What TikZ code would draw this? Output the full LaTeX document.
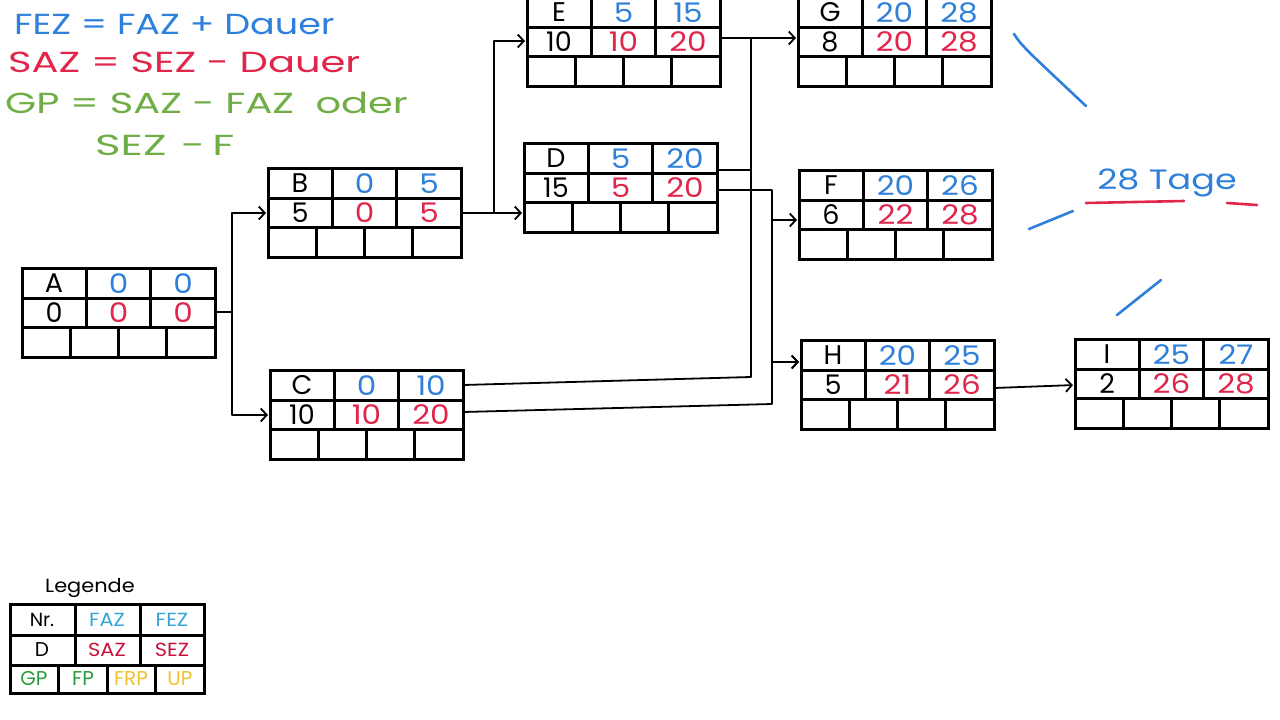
\documentclass[tikz,border=0pt]{standalone}
\usepackage{fontspec}
\setmainfont{Poppins}
\usetikzlibrary{arrows.meta,calc}
\definecolor{pblue}{HTML}{2F80DA}
\definecolor{pred}{HTML}{E0264A}
\definecolor{pgreen}{HTML}{6FAD45}
\definecolor{lcyan}{HTML}{33A6D6}
\definecolor{lred}{HTML}{C8123A}
\definecolor{lgreen}{HTML}{2A9A3C}
\definecolor{lyellow}{HTML}{EEC232}
\tikzset{
  boxframe/.style={draw=black, line width=3pt, minimum width=193pt, minimum height=89pt, inner sep=0pt, outer sep=0pt, anchor=north west},
  cellline/.style={line width=3pt},
  conn/.style={draw=black, line width=1.8pt, line join=round},
  arr/.style={conn, shorten >=2pt, -{Straight Barb[length=6pt,width=13pt,line width=1.8pt]}},
  blk/.style={font=\fontsize{27}{27}\selectfont, text=black, inner sep=0pt},
  bluetxt/.style={blk, text=pblue},
  redtxt/.style={blk, text=pred},
  formula/.style={anchor=west, inner sep=0pt, font=\fontsize{29}{29}\selectfont},
  legtxt/.style={inner sep=0pt, font=\fontsize{19}{19}\selectfont},
  legbig/.style={inner sep=0pt, font=\fontsize{20}{20}\selectfont},
  pen/.style={line width=2.6pt, line cap=round},
}
\newcommand\pmbox[9]{%
  \node[boxframe] (#1) at (#2,#3) {};
  \begin{scope}[shift={(#2,#3)}]
    \draw[cellline] (0,30) -- (193,30) (0,59) -- (193,59)
      (64.3,0) -- (64.3,59) (128.7,0) -- (128.7,59)
      (48.25,59) -- (48.25,89) (96.5,59) -- (96.5,89) (144.75,59) -- (144.75,89);
    \node[blk] (#1-n) at (32,15.5) {#4};
    \node[blk] (#1-d) at (32,45) {#5};
    \node[bluetxt] (#1-faz) at (96.5,15.5) {\scalebox{1.15}[1]{#6}};
    \node[bluetxt] (#1-fez) at (161,15.5) {\scalebox{1.15}[1]{#7}};
    \node[redtxt] (#1-saz) at (96.5,45) {\scalebox{1.15}[1]{#8}};
    \node[redtxt] (#1-sez) at (161,45) {\scalebox{1.15}[1]{#9}};
  \end{scope}}
\begin{document}
\begin{tikzpicture}[x=1pt,y=-1pt]
\useasboundingbox[fill=white] (0,0) rectangle (1280,720);

% formulas
\node[formula, text=pblue] (f1) at (14,25) {\scalebox{1.26}[1]{FEZ = FAZ + Dauer}};
\node[formula, text=pred] (f2) at (8,62) {\scalebox{1.38}[1]{SAZ = SEZ - Dauer}};
\node[formula, text=pgreen] (f3) at (5,103) {\scalebox{1.38}[1]{GP = SAZ - FAZ \ oder}};
\node[formula, text=pgreen] (f4) at (95,145) {\scalebox{1.5}[1]{SEZ\,\,-\,F}};

% boxes
\pmbox{A}{22}{268}{A}{0}{0}{0}{0}{0}
\pmbox{B}{268}{168}{B}{5}{0}{5}{0}{5}
\pmbox{C}{270}{370}{C}{10}{0}{10}{10}{20}
\pmbox{E}{527}{-3}{E}{10}{5}{15}{10}{20}
\pmbox{D}{524}{143}{D}{15}{5}{20}{5}{20}
\pmbox{G}{798}{-3}{G}{8}{20}{28}{20}{28}
\pmbox{F}{799}{170}{F}{6}{20}{26}{22}{28}
\pmbox{H}{801}{340}{H}{5}{20}{25}{21}{26}
\pmbox{I}{1075}{339}{I}{2}{25}{27}{26}{28}

% connectors
\draw[arr] ($(A.north east)+(0,44)$) -- ++(17,0) |- ($(B.north west)+(0,45)$);
\draw[arr] ($(A.north east)+(0,44)$) -- ++(17,0) |- ($(C.north west)+(0,45)$);
\draw[arr] ($(B.north east)+(0,45)$) -- ++(33,0) |- ($(E.north west)+(0,44)$);
\draw[arr] ($(B.north east)+(0,45)$) -- ($(D.north west)+(0,70)$);
\draw[arr] ($(E.north east)+(0,41)$) -- ($(G.north west)+(0,41)$);
\coordinate (jG) at (751,39);
\coordinate (cG) at (751,377);
\draw[conn] ($(D.north east)+(0,27)$) -| (jG);
\draw[conn] ($(C.north east)+(0,15)$) -- (cG) -- (jG);
\coordinate (jF) at (772,190);
\coordinate (cH) at (772,404);
\draw[arr] ($(D.north east)+(0,47)$) -- (jF) |- ($(F.north west)+(0,50)$);
\draw[arr] (jF) |- ($(H.north west)+(0,22)$);
\draw[arr] ($(C.north east)+(0,42)$) -- (cH) |- ($(H.north west)+(0,22)$);
\draw[arr] ($(H.north east)+(0,48)$) -- ($(I.north west)+(0,46)$);

% right annotations
\draw[pen, pblue] (1014,34) .. controls (1022,46) .. (1086,106);
\draw[pen, pblue] (1029,229) -- (1073,211);
\draw[pen, pblue] (1117,315) -- (1161,280);
\node[inner sep=0pt, text=pblue, font=\fontsize{28}{28}\selectfont] (tage) at (1167,183) {\scalebox{1.25}[1]{28 Tage}};
\draw[pen, pred] (1086,203) -- (1184,201);
\draw[pen, pred] (1227,203) -- (1257,205);

% legend
\node[legtxt] (legt) at (90,588) {\scalebox{1.1}[1]{Legende}};
\node[boxframe, minimum width=194pt] (leg) at (10,604) {};
\begin{scope}[shift={(10,604)}]
  \draw[cellline] (0,31) -- (194,31) (0,61) -- (194,61)
    (65,0) -- (65,61) (130,0) -- (130,61)
    (48.5,61) -- (48.5,89) (97,61) -- (97,89) (145.5,61) -- (145.5,89);
  \node[legtxt] (l-nr) at (32,16) {Nr.};
  \node[legtxt, text=lcyan] (l-faz) at (97,16) {\scalebox{1.1}[1]{FAZ}};
  \node[legtxt, text=lcyan] (l-fez) at (162,16) {\scalebox{1.1}[1]{FEZ}};
  \node[legbig] (l-d) at (32,46) {D};
  \node[legtxt, text=lred] (l-saz) at (97,46) {\scalebox{1.1}[1]{SAZ}};
  \node[legtxt, text=lred] (l-sez) at (162,46) {\scalebox{1.1}[1]{SEZ}};
  \node[legbig, text=lgreen] (l-gp) at (24,75) {GP};
  \node[legbig, text=lgreen] (l-fp) at (73,75) {FP};
  \node[legbig, text=lyellow] (l-frp) at (121,75) {FRP};
  \node[legbig, text=lyellow] (l-up) at (170,75) {UP};
\end{scope}
\end{tikzpicture}
\end{document}
